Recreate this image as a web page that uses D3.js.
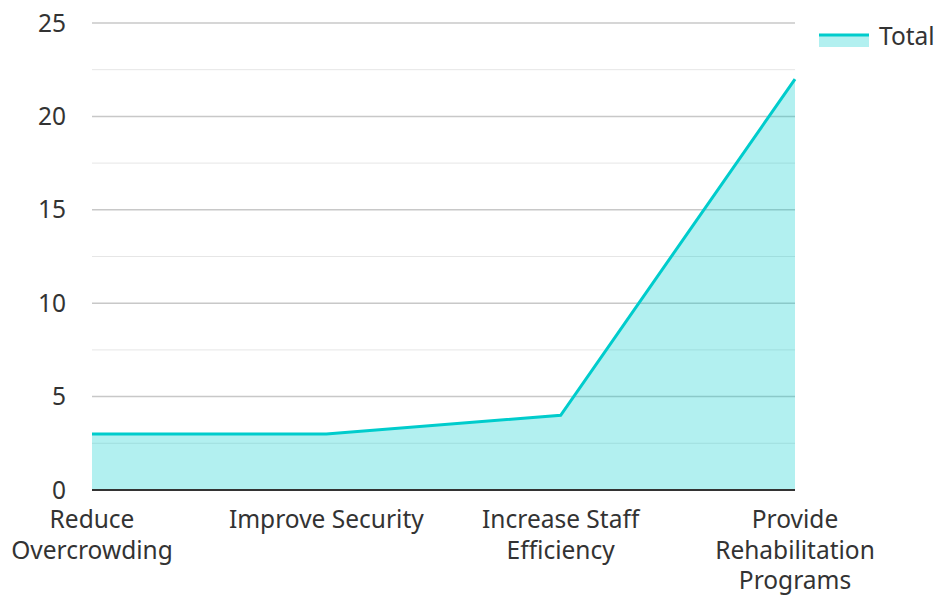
<!DOCTYPE html>
<html><head><meta charset="utf-8">
<script src="https://cdn.jsdelivr.net/npm/d3@7"></script>
<style>body{margin:0;background:#fff;font-family:"Noto Sans",sans-serif;}</style>
</head><body><svg id="c" width="935" height="597"></svg>
<script>
const categories = [["Reduce","Overcrowding"],["Improve Security"],["Increase Staff","Efficiency"],["Provide","Rehabilitation","Programs"]];
const values = [3, 3, 4, 22];
const yTicks = [0,5,10,15,20,25];
const minorTicks = [2.5,7.5,12.5,17.5,22.5];
const seriesName = "Total";

const svg = d3.select("#c");
const L=92, R=795, T=23, B=490;
const FS=24.5;
const x = d3.scalePoint().domain(d3.range(categories.length)).range([L,R]);
const y = d3.scaleLinear().domain([0,25]).range([B,T]);

svg.append("g").selectAll("line").data(minorTicks).join("line")
  .attr("x1",L).attr("x2",R).attr("y1",d=>y(d)).attr("y2",d=>y(d))
  .attr("stroke","#e6e6e6").attr("stroke-width",1);
svg.append("g").selectAll("line").data(yTicks.filter(d=>d>0)).join("line")
  .attr("x1",L).attr("x2",R).attr("y1",d=>y(d)).attr("y2",d=>y(d))
  .attr("stroke","#c8c8c8").attr("stroke-width",1.5);

const area = d3.area().x((d,i)=>x(i)).y0(y(0)).y1(d=>y(d));
const line = d3.line().x((d,i)=>x(i)).y(d=>y(d));
svg.append("path").datum(values).attr("d",area).attr("fill","#00cccc").attr("fill-opacity",0.3);
svg.append("path").datum(values).attr("d",line).attr("fill","none").attr("stroke","#00cccc").attr("stroke-width",3);

svg.append("line").attr("x1",L).attr("x2",R).attr("y1",y(0)).attr("y2",y(0)).attr("stroke","#333").attr("stroke-width",2);

svg.append("g").selectAll("text").data(yTicks).join("text")
  .attr("x",66).attr("y",d=>y(d)).attr("dy","0.35em").attr("text-anchor","end")
  .attr("font-size",FS).attr("fill","#333").text(d=>d);

const xl = svg.append("g").selectAll("text").data(categories).join("text")
  .attr("x",(d,i)=>x(i)).attr("y",528).attr("text-anchor","middle").attr("font-size",FS).attr("fill","#333");
xl.each(function(d,i){
  d3.select(this).selectAll("tspan").data(d).join("tspan")
    .attr("x",x(i)).attr("dy",(t,j)=>j===0?0:30.5).text(t=>t);
});

const lg = svg.append("g");
lg.append("rect").attr("x",819).attr("y",35).attr("width",50).attr("height",12).attr("fill","#00cccc").attr("fill-opacity",0.3);
lg.append("line").attr("x1",819).attr("x2",869).attr("y1",35).attr("y2",35).attr("stroke","#00cccc").attr("stroke-width",3);
lg.append("text").attr("x",879).attr("y",36).attr("dy","0.35em").attr("font-size",FS).attr("fill","#333").text(seriesName);
</script></body></html>
